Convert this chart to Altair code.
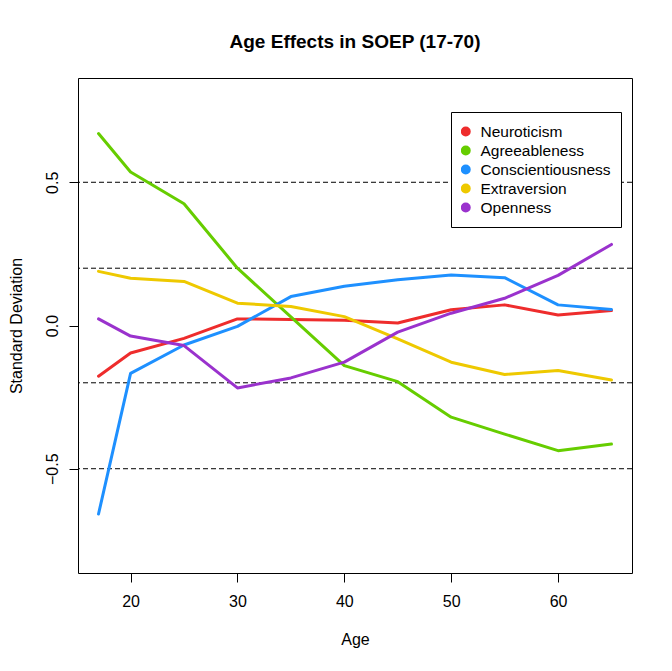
import altair as alt
import pandas as pd

ages = [17, 20, 25, 30, 35, 40, 45, 50, 55, 60, 65]
neuroticism = [-0.177, -0.096, -0.045, 0.023, 0.021, 0.018, 0.009, 0.055, 0.072, 0.037, 0.052]
agreeableness = [0.670, 0.536, 0.425, 0.200, 0.030, -0.140, -0.196, -0.320, -0.379, -0.437, -0.414]
conscientiousness = [-0.658, -0.167, -0.068, -0.003, 0.101, 0.137, 0.160, 0.176, 0.167, 0.072, 0.056]
extraversion = [0.189, 0.165, 0.154, 0.078, 0.066, 0.031, -0.047, -0.128, -0.171, -0.157, -0.190]
openness = [0.023, -0.037, -0.070, -0.218, -0.183, -0.128, -0.023, 0.043, 0.095, 0.175, 0.283]

traits = ["Neuroticism", "Agreeableness", "Conscientiousness", "Extraversion", "Openness"]
colors = ["#EE2C2C", "#66CD00", "#1E90FF", "#EEC900", "#9A32CD"]
ref_lines = [0.5, 0.2, -0.2, -0.5]
x_ticks = [20, 30, 40, 50, 60]
y_ticks = [-0.5, 0.0, 0.5]

series = [neuroticism, agreeableness, conscientiousness, extraversion, openness]
rows = []
for t, vals in zip(traits, series):
    for a, v in zip(ages, vals):
        rows.append({"Age": a, "Value": v, "Trait": t})
df = pd.DataFrame(rows)
ref_df = pd.DataFrame({"y": ref_lines})

FONT = "Liberation Sans"

x_scale = alt.Scale(domain=[15.08, 66.92], nice=False, zero=False)
y_scale = alt.Scale(domain=[-0.864, 0.864], nice=False, zero=False)
color_scale = alt.Scale(domain=traits, range=colors)

x_axis = alt.Axis(values=x_ticks, format="d", title="Age", grid=False, domain=False,
                  tickSize=9, tickColor="black", labelFontSize=16, labelFont=FONT,
                  labelColor="black", labelPadding=11, titleFontSize=16, titleFont=FONT,
                  titleFontWeight="normal", titleColor="black", titlePadding=22)
y_axis = alt.Axis(values=y_ticks, format=".1f", title="Standard Deviation", grid=False,
                  domain=False, tickSize=9, tickColor="black", labelFontSize=16,
                  labelFont=FONT, labelColor="black", labelAngle=270, labelPadding=9,
                  titleFontSize=16, titleFont=FONT, titleFontWeight="normal",
                  titleColor="black", titlePadding=20)

rules = alt.Chart(ref_df).mark_rule(color="black", strokeWidth=1, strokeDash=[5, 3]).encode(
    y=alt.Y("y:Q", scale=y_scale, axis=y_axis)
)

lines = alt.Chart(df).mark_line(strokeWidth=3, strokeCap="round", strokeJoin="round").encode(
    x=alt.X("Age:Q", scale=x_scale, axis=x_axis),
    y=alt.Y("Value:Q", scale=y_scale, axis=y_axis),
    color=alt.Color("Trait:N", scale=color_scale, sort=traits,
                    legend=alt.Legend(title=None, orient="none", legendX=373, legendY=34,
                                      strokeColor="black", fillColor="white", padding=10,
                                      symbolType="circle", symbolSize=25,
                                      symbolStrokeWidth=5, symbolOpacity=1,
                                      symbolOffset=-3,
                                      labelFontSize=15.5, labelFont=FONT, labelColor="black",
                                      labelOffset=7, rowPadding=0, clipHeight=19)),
    order=alt.Order("Age:Q"),
)

chart = alt.layer(rules, lines).properties(
    width=554,
    height=495,
    title=alt.TitleParams("Age Effects in SOEP (17-70)", font=FONT, fontSize=19,
                          fontWeight="bold", color="black", anchor="middle", offset=26),
    padding={"left": 70, "top": 70, "right": 30, "bottom": 80},
    autosize=alt.AutoSizeParams(type="none"),
    background="white",
).configure_view(stroke="black", strokeWidth=1)

chart.save("out.html", embed_options={"renderer": "svg", "actions": False})
